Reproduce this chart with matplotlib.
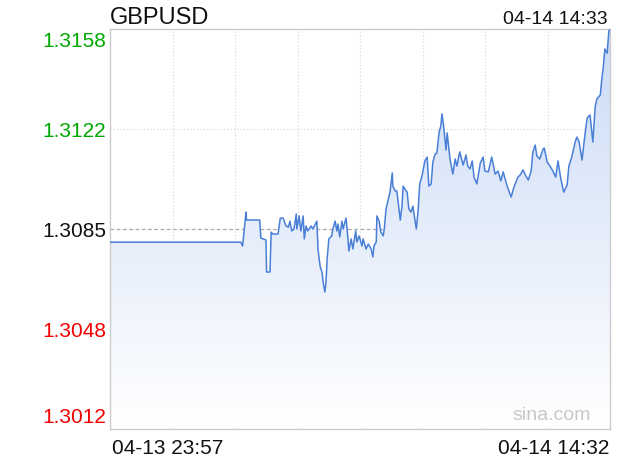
import numpy as np
import matplotlib
matplotlib.use('Agg')
import matplotlib.pyplot as plt
from matplotlib.colors import LinearSegmentedColormap

plt.rcParams['font.family'] = ['Liberation Sans', 'DejaVu Sans']

symbol = 'GBPUSD'
now_label = '04-14 14:33'
start_label = '04-13 23:57'
end_label = '04-14 14:32'
watermark = 'sina.com'

prev_close = 1.3085
y_half = 0.00731
span_minutes = 875

# minutes after 04-13 23:57
minutes = [0, 229, 232, 235, 238, 239, 262, 264, 273, 274, 280, 282, 285, 294,
           298, 303, 308, 312, 315, 318, 322, 326, 327, 331, 334, 338, 340, 343,
           346, 352, 355, 362, 364, 366, 368, 371, 373, 376, 378, 380, 383, 388,
           390, 394, 397, 399, 402, 406, 408, 413, 415, 418, 422, 425, 430, 432,
           436, 441, 443, 448, 452, 457, 460, 462, 466, 467, 471, 474, 478, 480,
           483, 486, 490, 494, 495, 499, 502, 504, 508, 511, 513, 516, 520, 523,
           527, 530, 536, 539, 542, 546, 551, 555, 558, 562, 565, 569, 572, 576,
           579, 581, 584, 588, 590, 595, 600, 604, 607, 612, 618, 623, 626, 630,
           634, 637, 642, 648, 653, 656, 662, 668, 674, 679, 684, 688, 695, 702,
           707, 714, 718, 723, 726, 732, 737, 740, 744, 747, 752, 758, 760, 765,
           770, 775, 780, 784, 789, 794, 800, 803, 808, 814, 817, 821, 826, 830,
           835, 840, 845, 849, 852, 858, 861, 863, 866, 870, 873, 875]
prices = [1.30800, 1.30800, 1.30786, 1.30848, 1.30910, 1.30881, 1.30881, 1.30815,
          1.30808, 1.30691, 1.30691, 1.30837, 1.30830, 1.30830, 1.30888, 1.30888,
          1.30859, 1.30855, 1.30877, 1.30841, 1.30848, 1.30903, 1.30848, 1.30896,
          1.30841, 1.30896, 1.30812, 1.30859, 1.30841, 1.30859, 1.30848, 1.30877,
          1.30775, 1.30739, 1.30709, 1.30691, 1.30654, 1.30618, 1.30654, 1.30739,
          1.30812, 1.30823, 1.30848, 1.30877, 1.30841, 1.30866, 1.30819, 1.30877,
          1.30848, 1.30888, 1.30848, 1.30768, 1.30812, 1.30775, 1.30841, 1.30801,
          1.30823, 1.30786, 1.30812, 1.30775, 1.30793, 1.30775, 1.30746, 1.30786,
          1.30801, 1.30896, 1.30877, 1.30837, 1.30823, 1.30848, 1.30921, 1.30947,
          1.30983, 1.31053, 1.31005, 1.30987, 1.30987, 1.30951, 1.30881, 1.30932,
          1.31005, 1.30994, 1.30983, 1.30921, 1.30910, 1.30932, 1.30848, 1.30910,
          1.31013, 1.31042, 1.31097, 1.31111, 1.31005, 1.31013, 1.31093, 1.31122,
          1.31126, 1.31203, 1.31225, 1.31269, 1.31221, 1.31137, 1.31199, 1.31104,
          1.31049, 1.31104, 1.31078, 1.31130, 1.31082, 1.31119, 1.31078, 1.31068,
          1.31097, 1.31038, 1.31013, 1.31089, 1.31111, 1.31060, 1.31057, 1.31111,
          1.31049, 1.31060, 1.31024, 1.31057, 1.31005, 1.30965, 1.31002, 1.31038,
          1.31046, 1.31064, 1.31049, 1.31027, 1.31060, 1.31130, 1.31155, 1.31115,
          1.31104, 1.31141, 1.31144, 1.31093, 1.31078, 1.31060, 1.31038, 1.31097,
          1.31031, 1.30983, 1.31009, 1.31078, 1.31111, 1.31166, 1.31184, 1.31166,
          1.31100, 1.31173, 1.31254, 1.31265, 1.31166, 1.31294, 1.31323, 1.31338,
          1.31404, 1.31433, 1.31506, 1.31491, 1.31572, 1.31579]

y_ticks = [prev_close + y_half * f for f in (1, 0.5, 0, -0.5, -1)]
tick_colors = ['#00a800', '#00a800', '#111111', '#f20000', '#f20000']
ymin, ymax = prev_close - y_half, prev_close + y_half

W, H = 620, 460
fig = plt.figure(figsize=(W / 100, H / 100), dpi=100)
ax = fig.add_axes([110 / W, 1 - 429.5 / H, 500 / W, 400 / H])
ax.set_xlim(0, span_minutes)
ax.set_ylim(ymin, ymax)
ax.set_xticks([])
ax.set_yticks([])
for s in ax.spines.values():
    s.set_color('#cccccc')
    s.set_linewidth(1)

# grid
for k in range(1, 8):
    ax.axvline(span_minutes * k / 8, color='#d4d4d4', lw=0.8, ls=(0, (1, 2)), zorder=1)
for v in (y_ticks[1], y_ticks[3]):
    ax.axhline(v, color='#d4d4d4', lw=0.8, ls=(0, (1, 2)), zorder=1)
ax.axhline(prev_close, color='#aaaaaa', lw=0.9, ls=(0, (3, 2)), zorder=1)

# gradient area
poly = ax.fill_between(minutes, prices, ymin, facecolor='none', edgecolor='none')
cmap = LinearSegmentedColormap.from_list('fill', ['#ffffff', '#cbdbf6'])
grad = np.linspace(0, 1, 256).reshape(-1, 1)
im = ax.imshow(grad, cmap=cmap, origin='lower', aspect='auto',
               extent=[0, span_minutes, ymin, ymax], zorder=2)
im.set_clip_path(poly.get_paths()[0], transform=ax.transData)
ax.plot(minutes, prices, color='#4a7fd8', lw=1.1, zorder=3)

# texts
def px(x, y):
    return x / W, 1 - y / H

fig.text(*px(110, 24), symbol, fontsize=17, ha='left', va='baseline', color='#111111')
fig.text(*px(608, 24), now_label, fontsize=14, ha='right', va='baseline', color='#111111')
fig.text(*px(112, 454), start_label, fontsize=15, ha='left', va='baseline', color='#111111')
fig.text(*px(609, 454), end_label, fontsize=15, ha='right', va='baseline', color='#111111')
fig.text(*px(591, 420), watermark, fontsize=14, ha='right', va='baseline', color='#c8c8c8')

label_base = [47, 136.7, 236.7, 336.7, 423]
for v, c, yb in zip(y_ticks, tick_colors, label_base):
    fig.text(*px(106, yb), '%.4f' % v, fontsize=15, ha='right', va='baseline', color=c)

fig.savefig('out.png', dpi=100)
